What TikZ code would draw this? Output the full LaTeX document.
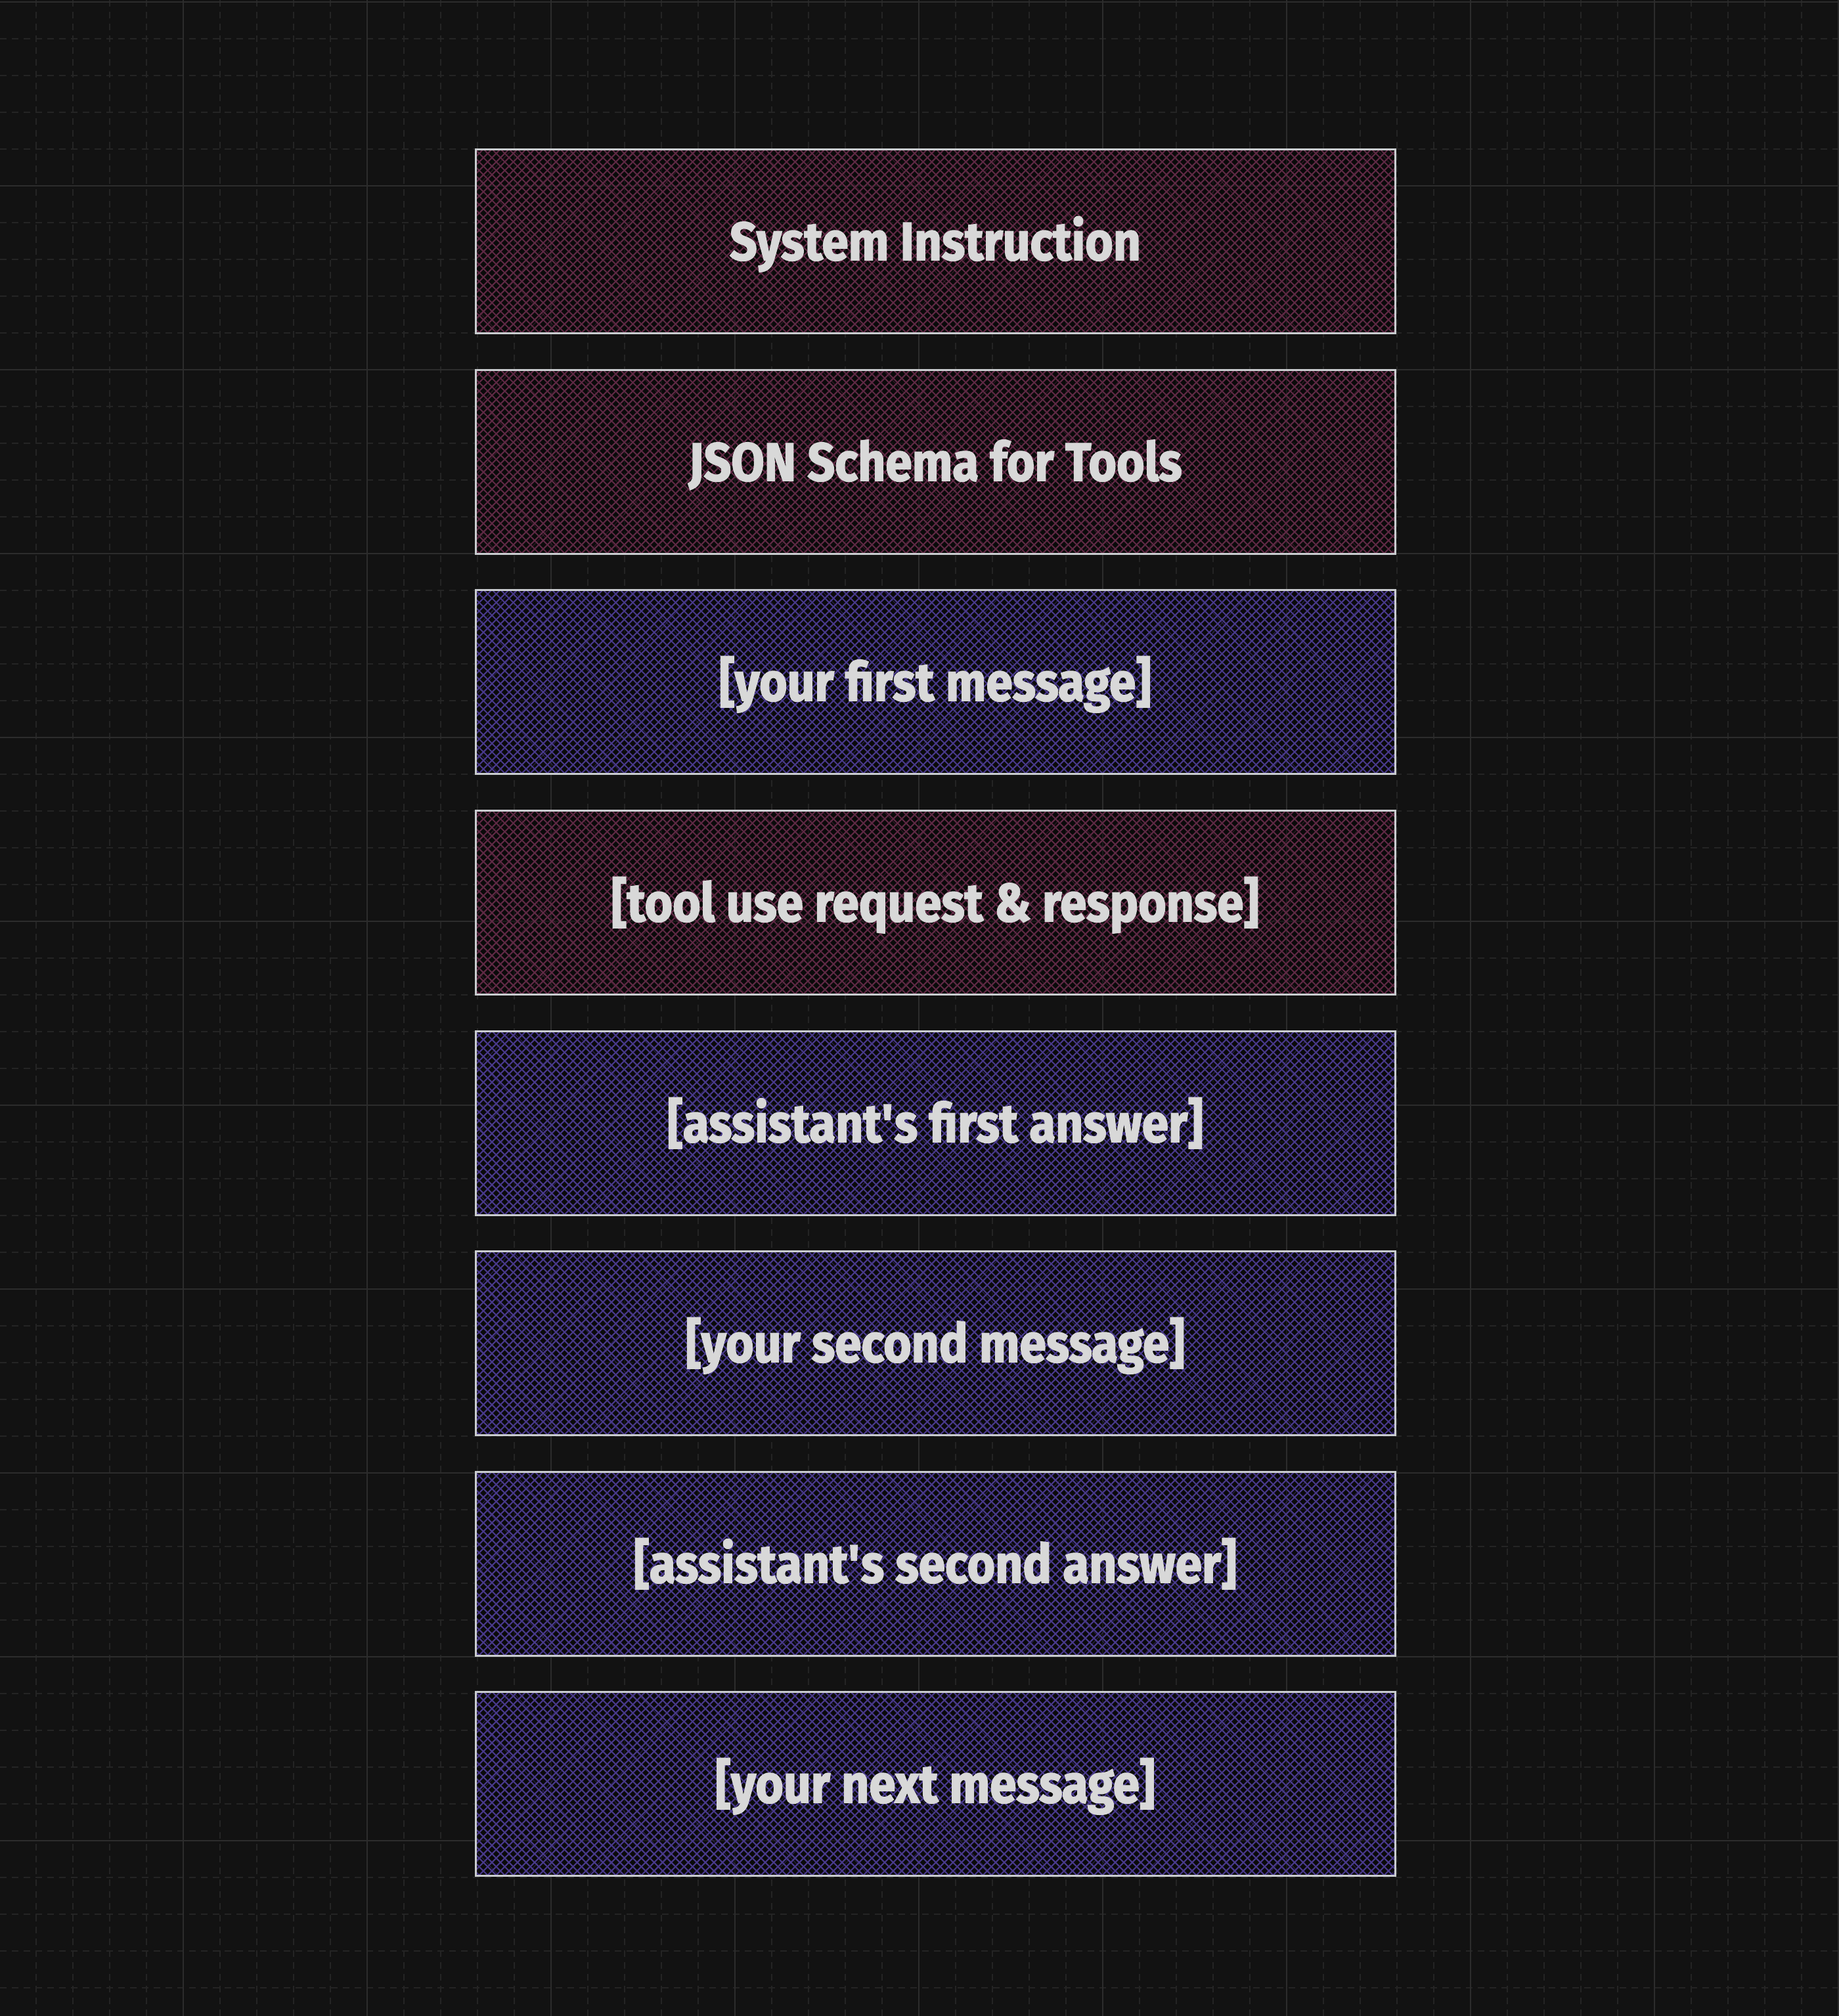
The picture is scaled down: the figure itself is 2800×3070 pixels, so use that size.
\documentclass[tikz,border=0pt]{standalone}
\usepackage{fontspec}
\setmainfont{Fira Sans}[FakeStretch=0.89, BoldFeatures={FakeBold=2}]
\definecolor{bg}{HTML}{121212}
\definecolor{minorc}{HTML}{242424}
\definecolor{majorc}{HTML}{2C2C2C}
\definecolor{edgec}{HTML}{C9CCCF}
\definecolor{txtc}{HTML}{D8D8D8}
\definecolor{redh}{HTML}{5E2944}
\definecolor{blueh}{HTML}{48398A}
\tikzset{
  minorgrid/.style={draw=minorc, line width=1pt, dash pattern=on 5pt off 4pt},
  majorgrid/.style={draw=majorc, line width=1pt},
  hatchline/.style={line width=1.05pt},
  hatchbox/.style={
    draw=edgec, line width=1.5pt, fill=black, fill opacity=0.4, text opacity=1,
    minimum width=700pt, minimum height=140pt, inner sep=0pt, outer sep=0pt,
    text=txtc, font=\bfseries\fontsize{41}{41}\selectfont,
    text height=29pt, text depth=0pt,
    path picture={
      \foreach \k in {-150,-143.5,...,852} {
        \draw[hatchline, draw=#1, draw opacity=1]
          ([xshift=\k pt]path picture bounding box.north west) -- ++(150pt,-150pt);
        \draw[hatchline, draw=#1, draw opacity=1]
          ([xshift=\k pt]path picture bounding box.north west) -- ++(-150pt,-150pt);
      }
      \foreach \k in {-160,-113,...,860} {
        \draw[line width=0.6pt, draw=#1, draw opacity=0.45]
          ([xshift=\k pt]path picture bounding box.north west) -- ++(140pt,-150pt);
        \draw[line width=0.6pt, draw=#1, draw opacity=0.45]
          ([xshift=\k pt]path picture bounding box.north west) -- ++(-140pt,-150pt);
      }
    }
  },
  redbox/.style={hatchbox=redh},
  bluebox/.style={hatchbox=blueh}
}
\begin{document}
\begin{tikzpicture}[x=0.5pt,y=-0.5pt]
\useasboundingbox (0,0) rectangle (2800,3070);
\fill[bg] (0,0) rectangle (2800,3070);
% grid
\foreach \k in {0,...,50} \draw[minorgrid] ({-1+56*\k},0) -- ({-1+56*\k},3070);
\foreach \k in {0,...,54} \draw[minorgrid] (0,{3+56*\k}) -- (2800,{3+56*\k});
\foreach \k in {0,...,10} \draw[majorgrid] ({-1+280*\k},0) -- ({-1+280*\k},3070);
\foreach \k in {0,...,10} \draw[majorgrid] (0,{3+280*\k}) -- (2800,{3+280*\k});
% boxes
\node[redbox]  (sys)  at (1424,367)  {System Instruction};
\node[redbox]  (json) at (1424,703)  {JSON Schema for Tools};
\node[bluebox] (m1)   at (1424,1038) {[your first message]};
\node[redbox]  (tool) at (1424,1374) {[tool use request \& response]};
\node[bluebox] (a1)   at (1424,1710) {[assistant\textquotesingle s first answer]};
\node[bluebox] (m2)   at (1424,2045) {[your second message]};
\node[bluebox] (a2)   at (1424,2381) {[assistant\textquotesingle s second answer]};
\node[bluebox] (m3)   at (1424,2716) {[your next message]};
\end{tikzpicture}
\end{document}
